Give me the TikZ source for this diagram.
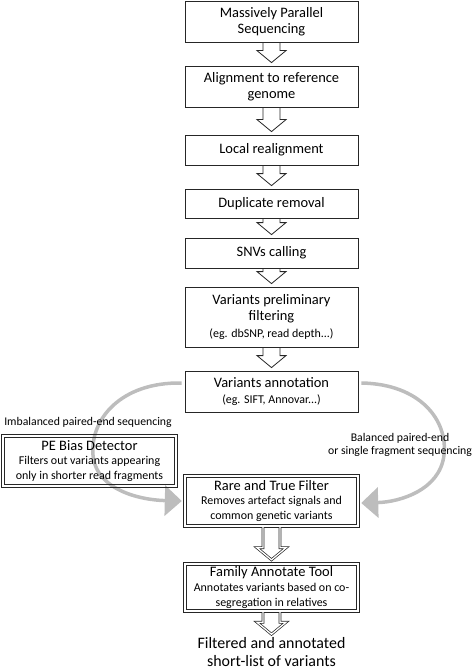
\documentclass[tikz,border=0pt]{standalone}
\usepackage{fontspec}
\setmainfont{Carlito}
\usetikzlibrary{arrows.meta,calc,backgrounds}
\definecolor{LineClr}{rgb}{0.15,0.15,0.15}
\definecolor{ArcClr}{rgb}{0.74,0.74,0.74}

\newcommand{\smalltxt}{\fontsize{12}{12.5}\selectfont}
% hollow block arrow from one box to the next
\newcommand{\hollowarrow}[3][]{%
  \draw[line width=0.8bp,LineClr,line join=miter,#1] let \p1=(#2.south), \p2=(#3.north) in
    ({\x1-8.5bp},\y1) -- ({\x1-8.5bp},{\y2+15bp}) -- ({\x1-14.5bp},{\y2+15bp})
    -- (\x1,{\y2+3bp}) -- ({\x1+14.5bp},{\y2+15bp}) -- ({\x1+8.5bp},{\y2+15bp})
    -- ({\x1+8.5bp},\y1);}

\begin{document}
\begin{tikzpicture}[x=1bp,y=-1bp,
  stepbox/.style={draw=LineClr,line width=0.8bp,minimum width=173bp,inner sep=0pt,
    align=center,font=\fontsize{14.5}{16.5}\selectfont},
  toolbox/.style={minimum width=175bp,inner sep=0pt,align=center,
    font=\fontsize{14.5}{15}\selectfont},
  dbl/.style={double,line width=0.7bp,double distance=1.3bp},
  note/.style={inner sep=0pt,align=center,font=\fontsize{11.8}{13}\selectfont},
  arc/.style={ArcClr,line width=3.5bp,-{Triangle[length=17bp,width=30bp]}}]

\useasboundingbox (0,0) rectangle (474,669);

\node[stepbox,minimum height=41bp] (seq) at (271.5,21.5) {Massively Parallel\\Sequencing};
\node[stepbox,minimum height=41bp] (align) at (271.5,86.5) {Alignment to reference\\genome};
\node[stepbox,minimum height=30bp] (local) at (271.5,150) {Local realignment};
\node[stepbox,minimum height=29bp] (dup) at (271.5,203.5) {Duplicate removal};
\node[stepbox,minimum height=30bp] (snv) at (271.5,253) {SNVs calling};
\node[stepbox,minimum height=60bp] (prefilt) at (271.5,317) {Variants preliminary\\filtering\\{\smalltxt (eg. dbSNP, read depth...)}};
\node[stepbox,minimum height=41bp] (annot) at (271.5,391.5) {Variants annotation\\{\smalltxt (eg. SIFT, Annovar...)}};

\node[toolbox,minimum height=52bp] (pebias) at (89.5,461) {PE Bias Detector\\{\smalltxt Filters out variants appearing}\\{\smalltxt only in shorter read fragments}};
\node[toolbox,minimum height=52bp] (rare) at (271.5,501) {Rare and True Filter\\{\smalltxt Removes artefact signals and}\\{\smalltxt common genetic variants}};
\node[toolbox,minimum height=49bp] (family) at (271.5,587.5) {Family Annotate Tool\\{\smalltxt Annotates variants based on co-}\\{\smalltxt segregation in relatives}};
\node[inner sep=0pt,align=center,font=\fontsize{16}{18}\selectfont] (final) at (271.5,652) {Filtered and annotated\\short-list of variants};

% double frames of the tool boxes
\foreach \n in {pebias,rare,family} {
  \draw[LineClr,line width=1.3bp] (\n.south west) rectangle (\n.north east);
  \draw[LineClr,line width=0.7bp] ([shift={(2.6,-2.6)}]\n.south west) rectangle ([shift={(-2.6,2.6)}]\n.north east);
}

\node[note] (imbal) at (88,422) {Imbalanced paired-end sequencing};
\node[note] (bal) at (400,445) {Balanced paired-end\\or single fragment sequencing};

\hollowarrow{seq}{align}
\hollowarrow{align}{local}
\hollowarrow{local}{dup}
\hollowarrow{dup}{snv}
\hollowarrow{snv}{prefilt}
\hollowarrow{prefilt}{annot}
\hollowarrow[dbl]{rare}{family}
\hollowarrow[dbl]{family}{final}

\begin{scope}[on background layer]
\coordinate (lstart) at ([xshift=-3bp,yshift=8.5bp]annot.west);
\coordinate (rstart) at ([xshift=3bp,yshift=8.5bp]annot.east);
\draw[arc] (lstart) .. controls (120,382) and (90,420) .. (93,455)
  .. controls (96,490) and (140,500) .. ([xshift=-2bp]rare.west);
\draw[arc] (rstart) .. controls (420,384) and (448,420) .. (444,455)
  .. controls (440,490) and (400,502) .. ([xshift=2bp,yshift=-2bp]rare.east);
\end{scope}

\end{tikzpicture}
\end{document}
